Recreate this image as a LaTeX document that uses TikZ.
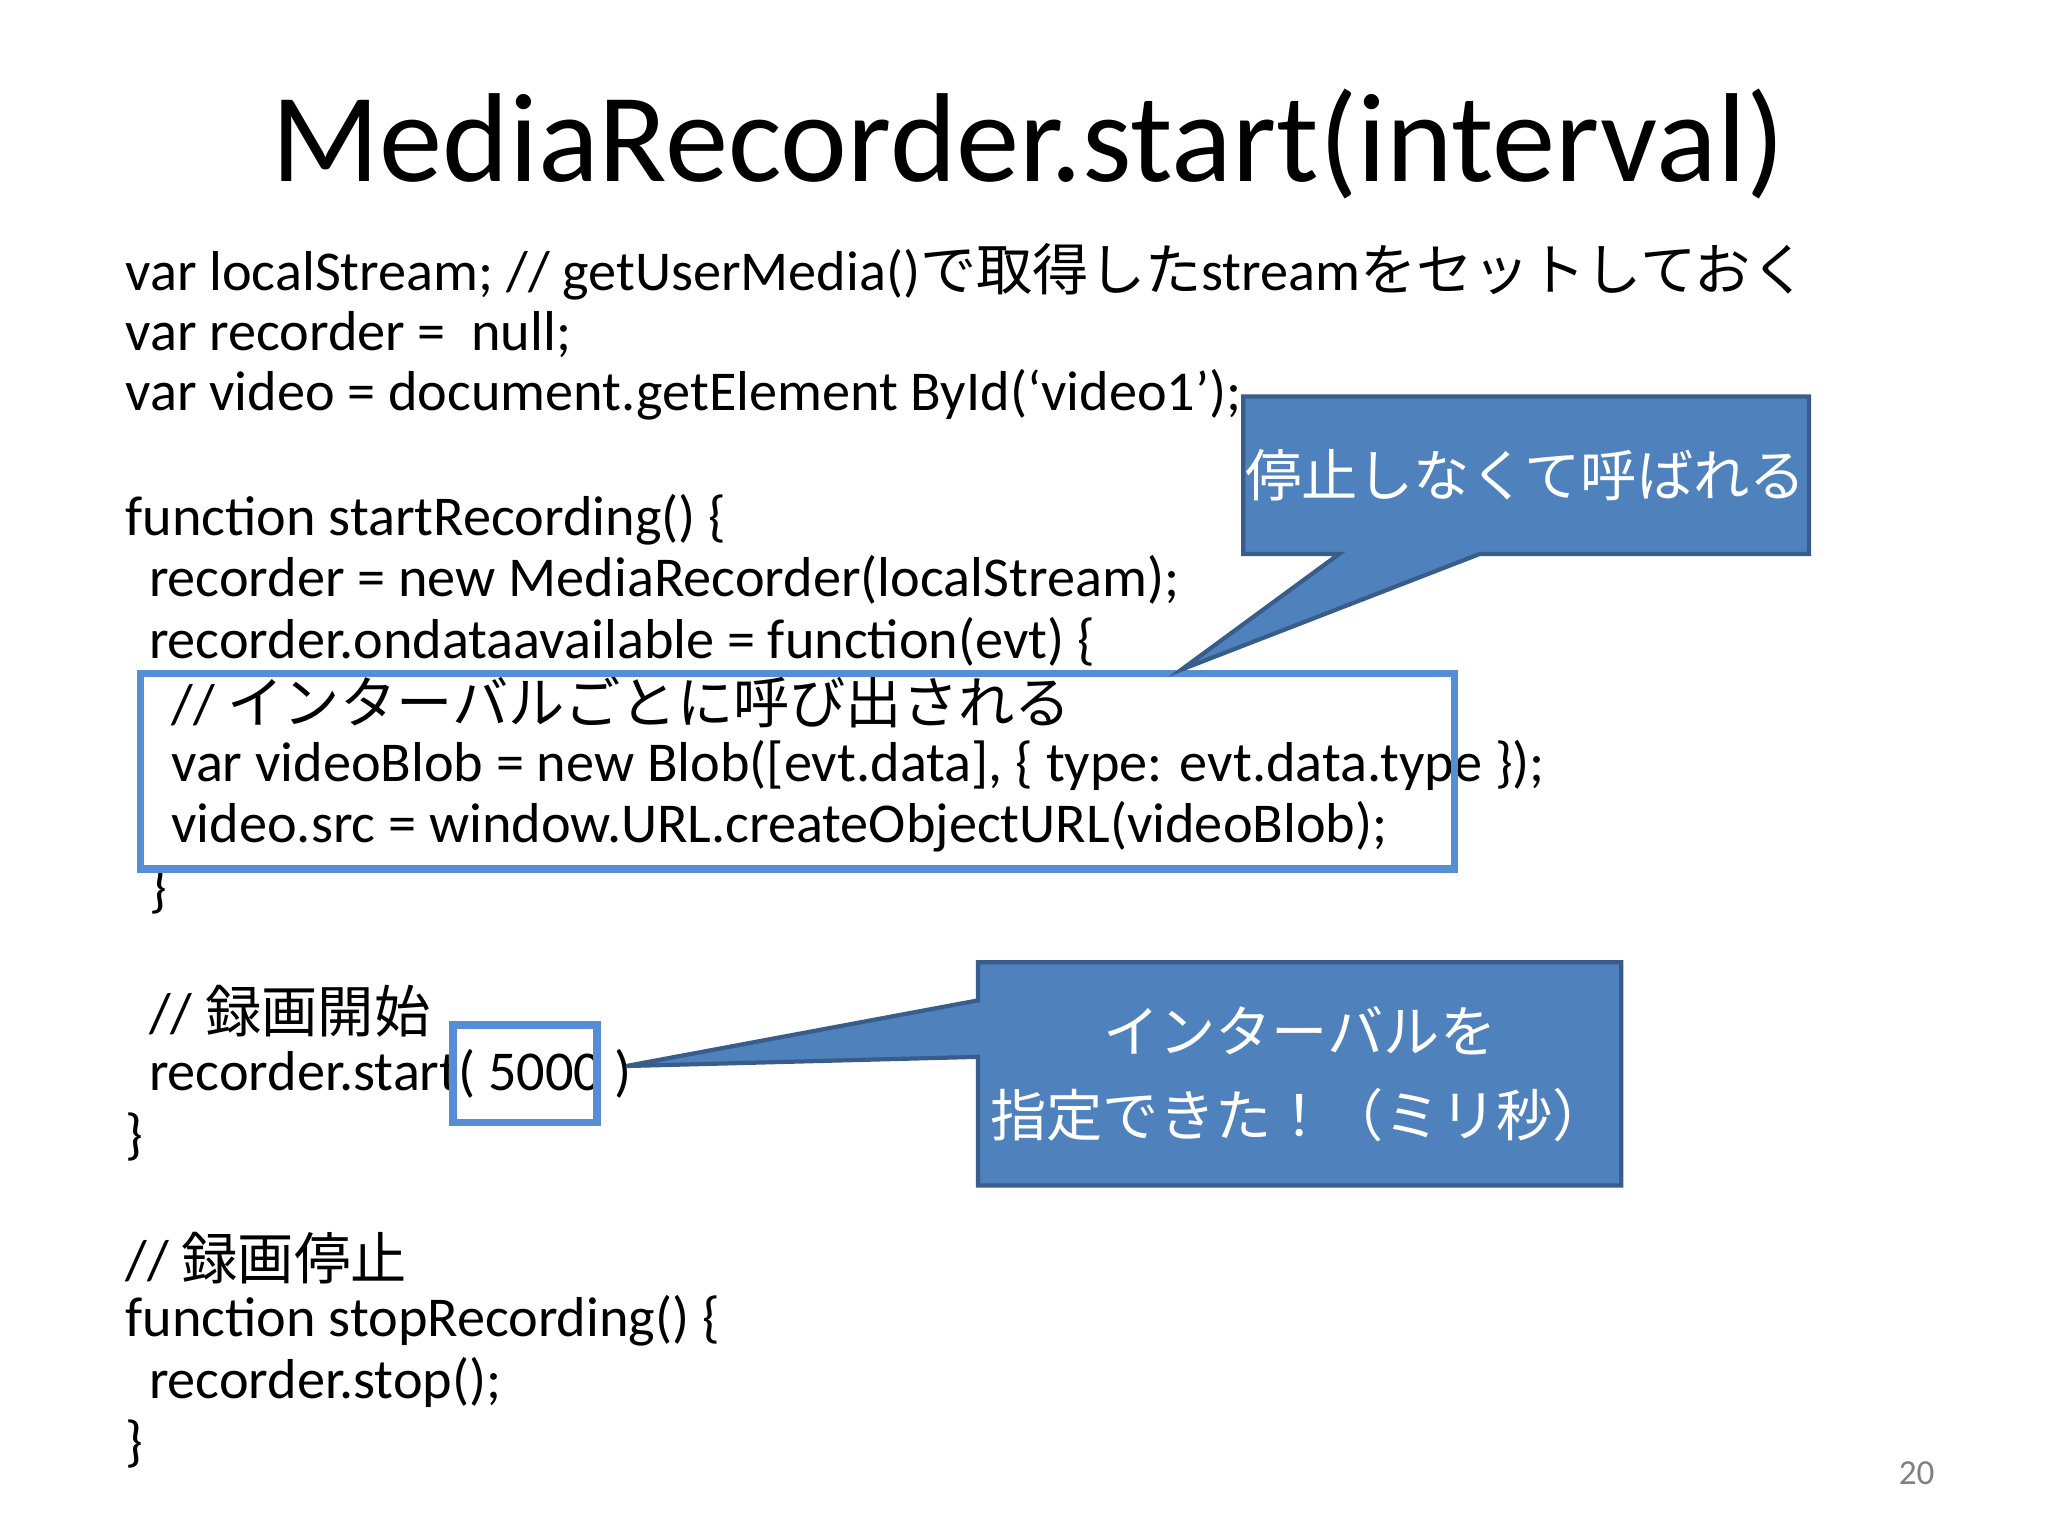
\documentclass[tikz,border=0pt]{standalone}
\usepackage{fontspec}
\setmainfont{Carlito}
\newfontfamily\cjk{Noto Sans CJK JP}
\definecolor{cfill}{HTML}{4F81BD}
\definecolor{cedge}{HTML}{385D8A}
\definecolor{hbox}{HTML}{558ED5}
\begin{document}
\begin{tikzpicture}[x=0.013128cm,y=-0.013128cm,
  code/.style={anchor=west,inner sep=0pt,font=\fontsize{16}{18}\selectfont},
  ctext/.style={text=white,align=center,font=\fontsize{16}{24}\selectfont\cjk},
  callout/.style={fill=cfill,draw=cedge,line width=1.2pt,line join=miter},
  hl/.style={draw=hbox,line width=2.2pt}]
\useasboundingbox (0,0) rectangle (1560,1170);
\node[anchor=center,inner sep=0pt,font=\fontsize{36}{40}\selectfont] (title) at (783,110) {MediaRecorder.start(interval)};
\node[code] (l1) at (95,207) {var localStream; // getUserMedia(){\cjk で取得した}stream{\cjk をセットしておく}};
\node[code] (l2) at (95,255) {var recorder =\ \ null;};
\node[code] (l3) at (95,301) {var video = document.getElement ById(‘video1’);};
\node[code] (l4) at (95,396) {function startRecording() \{};
\node[code] (l5) at (113,442) {recorder = new MediaRecorder(localStream);};
\node[code] (l6) at (113,489) {recorder.ondataavailable = function(evt) \{};
\node[code] (l7) at (130,535) {// {\cjk インターバルごとに呼び出される}};
\node[code] (l8) at (130,583) {var videoBlob = new Blob([evt.data], \{ type: evt.data.type \});};
\node[code] (l9) at (130,630) {video.src = window.URL.createObjectURL(videoBlob);};
\node[code] (l10) at (113,678) {\}};
\node[code] (l11) at (113,770) {// {\cjk 録画開始}};
\node[code] (l12) at (113,818) {recorder.start( 5000 )};
\node[code] (l13) at (95,866) {\}};
\node[code] (l14) at (95,958) {// {\cjk 録画停止}};
\node[code] (l15) at (95,1006) {function stopRecording() \{};
\node[code] (l16) at (113,1053) {recorder.stop();};
\node[code] (l17) at (95,1100) {\}};
\draw[hl] (107,513) rectangle (1108,662);
\draw[hl] (345,781) rectangle (455,855);
% callout 1
\draw[callout] (947,302) -- (1378,302) -- (1378,422) -- (1127,422) -- (900,510) -- (1020,422) -- (947,422) -- cycle;
\node[ctext] (c1) at (1162,362) {停止しなくて呼ばれる};
% callout 2
\draw[callout] (745,733) -- (1235,733) -- (1235,903) -- (745,903) -- (745,805) -- (477,812) -- (745,762) -- cycle;
\node[ctext] (c2) at (990,818) {インターバルを\\指定できた！（ミリ秒）};
\node[anchor=center,inner sep=0pt,text=gray,font=\fontsize{10}{12}\selectfont] (pg) at (1460,1122) {20};
\end{tikzpicture}
\end{document}
